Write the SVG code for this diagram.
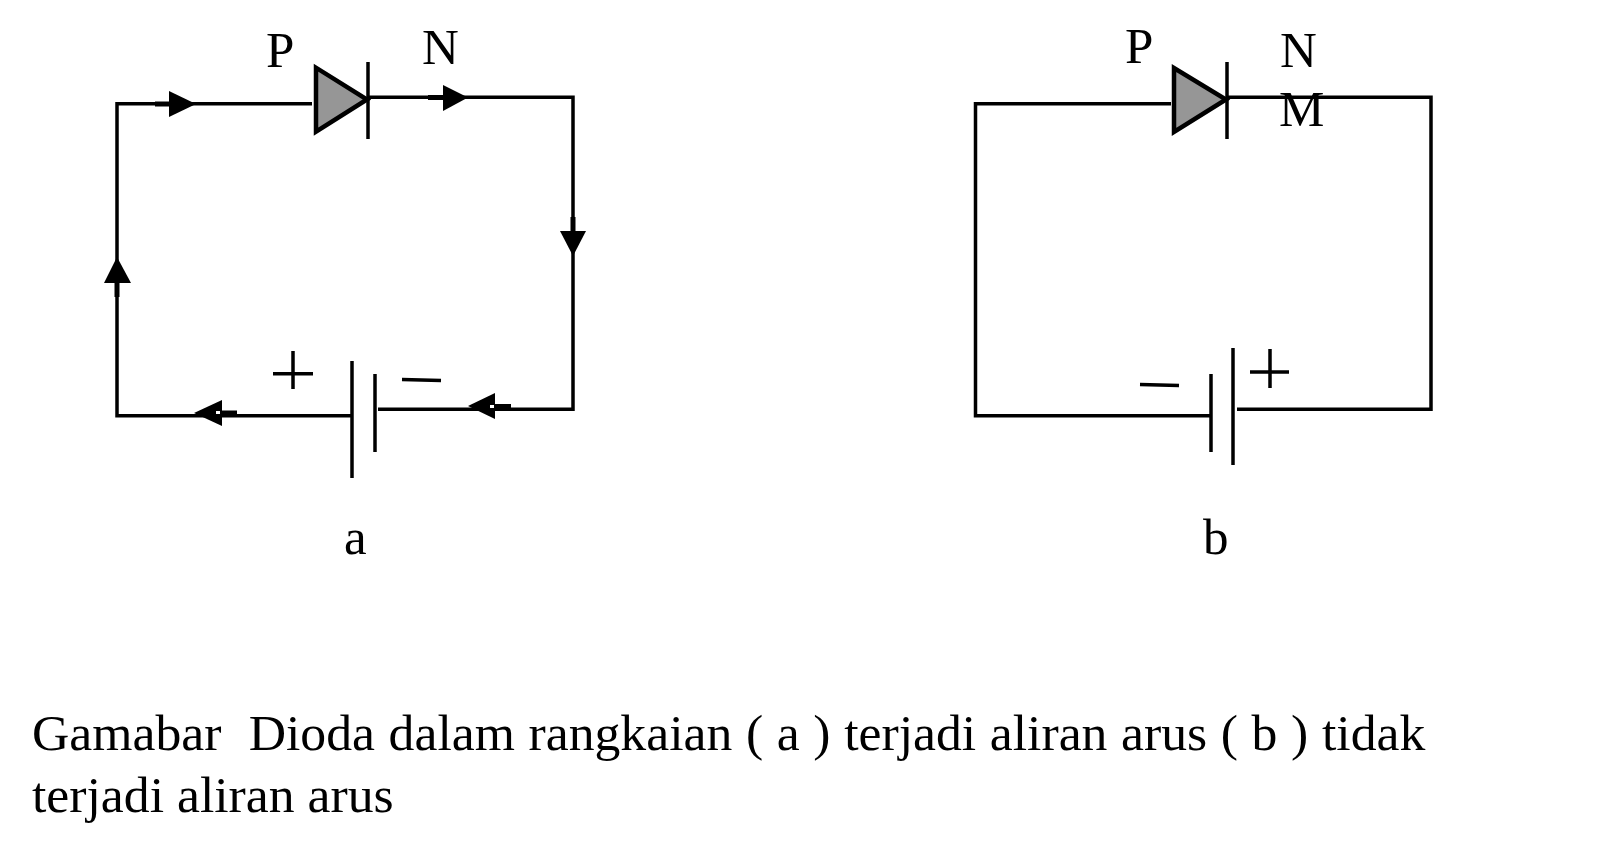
<svg xmlns="http://www.w3.org/2000/svg" width="1600" height="843" viewBox="0 0 1600 843">
<style>
.w{fill:none;stroke:#000;stroke-width:3.5;stroke-linecap:butt;stroke-linejoin:miter}
.b{fill:none;stroke:#000;stroke-width:3.5}
.d{fill:#969696;stroke:#000;stroke-width:4.5}
.h{fill:#000;stroke:none}
.t{fill:#000;stroke:#000;stroke-width:5}
.g{fill:#fff;stroke:none}
text{font-family:"Liberation Serif","Times New Roman",serif;font-size:51px;fill:#000}
.c{font-size:51.7px}
</style>
<rect width="1600" height="843" fill="#fff"/>
<g id="connectors">
<path class="w" d="M312 103.7H117V415.7H352"/>
<path class="w" d="M368 97.3H573V409.3H378"/>
<path class="w" d="M1171 103.7H975.5V415.7H1210"/>
<path class="w" d="M1227 97.3H1431V409.3H1237"/>
<g id="arrows-a">
<path class="h" d="M169 91L196 104L169 117Z"/><path class="t" d="M155 104H170"/>
<path class="h" d="M443 85L468 97.5L443 111Z"/><path class="t" d="M428 97.5H444"/>
<path class="h" d="M560 231H586L573 256Z"/><path class="t" d="M573 217V232"/>
<path class="h" d="M104 283H131L117 257Z"/><path class="t" d="M117 282V297"/>
<path class="h" d="M222 400V426L194 413Z"/><path class="t" d="M221 413H237"/>
<path class="h" d="M495 393V419L468 406Z"/><path class="t" d="M494 406.5H511"/>
<rect class="g" x="216" y="411" width="4" height="3"/>
<rect class="g" x="490" y="405" width="4" height="3"/>
</g>
</g>
<g id="diode-a">
<path class="d" d="M316 67.7V131.7L367 99.5Z"/>
<path class="b" d="M368 62V139"/>
</g>
<g id="battery-a">
<path class="b" d="M352 361V478"/>
<path class="b" d="M375 374V452"/>
<path class="b" d="M273 373.7H313M293 351V389M402 379.5L441 380.5"/>
</g>
<g id="diode-b">
<path class="d" d="M1174 68V132L1226 99.5Z"/>
<path class="b" d="M1227 62V139"/>
</g>
<g id="battery-b">
<path class="b" d="M1211 374V452"/>
<path class="b" d="M1233 348V465"/>
<path class="b" d="M1250 372H1289M1270 349V388M1140 384.5L1179 385.5"/>
</g>
<g id="labels">
<text x="266" y="67">P</text>
<text x="422" y="64">N</text>
<text x="1125" y="63">P</text>
<text x="1280" y="67">N</text>
<text x="1279" y="126">M</text>
<text x="344" y="554">a</text>
<text x="1203" y="554">b</text>
<text class="c" x="32" y="750" xml:space="preserve" word-spacing="0.7">Gamabar  Dioda dalam rangkaian ( a ) terjadi aliran arus ( b ) tidak</text>
<text class="c" x="32" y="812">terjadi aliran arus</text>
</g>
</svg>
